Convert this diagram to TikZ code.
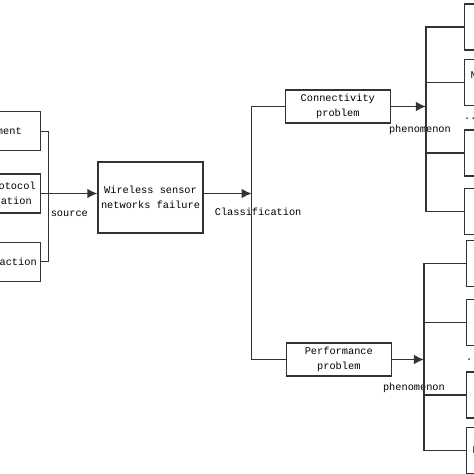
\documentclass[tikz,border=0pt]{standalone}
\usepackage{fontspec}
\setmonofont{Liberation Mono}
\usetikzlibrary{positioning,arrows.meta}
\definecolor{linegray}{HTML}{333333}
\begin{document}
\begin{tikzpicture}[
    x=1bp, y=1bp,
    every node/.style={font=\ttfamily\fontsize{10.3bp}{15bp}\selectfont},
    srcbox/.style={rectangle, draw=linegray, line width=1.3bp, text width=80bp, inner xsep=4bp, align=right, minimum height=39bp},
    mainbox/.style={rectangle, draw=linegray, line width=1.3bp, align=center, inner xsep=2bp, minimum width=105bp},
    effbox/.style={rectangle, draw=linegray, line width=1.3bp, text width=50bp, inner xsep=6bp, align=left, minimum height=46bp},
    lbl/.style={inner sep=0pt},
    link/.style={draw=linegray, line width=1.3bp},
    arrow/.style={link, -{Latex[length=10bp,width=9.5bp]}}
]
    \useasboundingbox (0,0) rectangle (474,474);
    \clip (0,0) rectangle (474,474);

    % Failure
    \node [mainbox, minimum height=71bp] (wsn) at (150.5,276.5) {Wireless sensor\\networks failure};

    % Sources
    \node [srcbox, left=56bp of wsn, yshift=4bp] (src2) {rotocol\kern1bp\\ration\kern5bp};
    \node [srcbox, above=22bp of src2] (src1) {ment\kern15bp};
    \node [srcbox, below=28bp of src2] (src3) {raction};

    % Classes
    \node [mainbox, minimum height=33bp, inner ysep=2bp, right=81bp of wsn, yshift=91bp] (conn) {Connectivity\\problem};
    \node [mainbox, minimum height=33bp, inner ysep=2bp, right=82bp of wsn, yshift=-162bp] (perf) {Performance\\problem};
    \coordinate [right=48bp of wsn.east] (cls);
    \coordinate [right=35bp of conn.east] (ph1);
    \coordinate [right=32bp of perf.east] (ph2);

    % Connectivity phenomena
    \node [effbox, right=73bp of conn, yshift=79.5bp] (c1) {};
    \node [effbox, below=8bp of c1] (c2) {N\\~};
    \node [effbox, below=23.5bp of c2] (c3) {};
    \node [effbox, below=11bp of c3] (c4) {};
    \node [lbl, anchor=west] (gap1) at ([yshift=-13bp]c2.south west) {...};

    % Performance phenomena
    \node [effbox, right=74bp of perf, yshift=96bp] (p1) {};
    \node [effbox, below=12bp of p1] (p2) {};
    \node [effbox, below=25bp of p2] (p3) {};
    \node [effbox, below=8bp of p3] (p4) {E};
    \node [lbl, anchor=west] (gap2) at ([yshift=-13.5bp]p2.south west) {...};

    % Connectors
    \draw [link] (src1.east) -- ++(7,0) |- (src3.east);
    \draw [arrow] (src2.east) -- (src2 -| wsn.west) node [lbl, midway, below=17bp] (srctxt) {source};
    \draw [arrow] (src2 -| wsn.east) -- (src2 -| cls) node [lbl, pos=1, below=14bp, xshift=6.5bp] (clstxt) {Classification};
    \draw [link] (conn.west) -| (cls) |- (perf.west);

    \draw [arrow] (conn) -- (ph1) node [lbl, pos=1, below=17.5bp, xshift=-6bp] (phtxt1) {phenomenon};
    \draw [link] (c1.west) -| (ph1) |- (c4.west);
    \draw [link] (c2.west) -- (c2.west -| ph1);
    \draw [link] (c3.west) -- (c3.west -| ph1);

    \draw [arrow] (perf) -- (ph2) node [lbl, pos=1, below=22.5bp, xshift=-10bp] (phtxt2) {phenomenon};
    \draw [link] (p1.west) -| (ph2) |- (p4.west);
    \draw [link] (p2.west) -- (p2.west -| ph2);
    \draw [link] (p3.west) -- (p3.west -| ph2);
\end{tikzpicture}
\end{document}
